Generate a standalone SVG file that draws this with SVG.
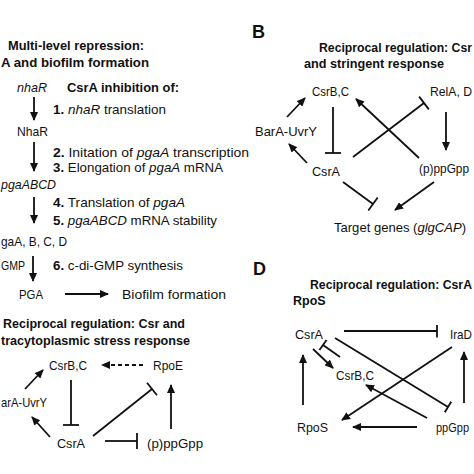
<svg xmlns="http://www.w3.org/2000/svg" width="474" height="474" viewBox="0 0 474 474">
<style>
text{font-family:"Liberation Sans",Arial,sans-serif;font-size:13px;fill:#111}
.b{font-weight:bold;font-size:12.5px}
.L{font-weight:bold;font-size:18px}
.i{font-style:italic}
.bb{font-weight:bold}
line,path.c{stroke:#111;stroke-width:1.8;fill:none}
.ar{marker-end:url(#ah)}
.te{marker-end:url(#tee)}
.ts{marker-end:url(#tees)}
.d{stroke-dasharray:4 3}
</style>
<defs>
<marker id="ah" viewBox="0 0 9 8" refX="8" refY="4" markerWidth="9" markerHeight="8" markerUnits="userSpaceOnUse" orient="auto"><path d="M0,0 L9,4 L0,8 z" fill="#111"/></marker>
<marker id="tee" viewBox="0 0 4 16" refX="2" refY="8" markerWidth="4" markerHeight="16" markerUnits="userSpaceOnUse" orient="auto"><path d="M2,0 V16" stroke="#111" stroke-width="1.8"/></marker>
<marker id="tees" viewBox="0 0 4 13" refX="2" refY="6.5" markerWidth="4" markerHeight="13" markerUnits="userSpaceOnUse" orient="auto"><path d="M2,0 V13" stroke="#111" stroke-width="1.8"/></marker>
</defs>
<rect width="474" height="474" fill="#fff"/>

<!-- Panel A -->
<g id="panelA">
<text class="b" x="8" y="50" textLength="136" lengthAdjust="spacingAndGlyphs">Multi-level repression:</text>
<text class="b" x="1" y="67" textLength="148" lengthAdjust="spacingAndGlyphs">A and biofilm formation</text>
<text class="b" x="67" y="92" textLength="112" lengthAdjust="spacingAndGlyphs">CsrA inhibition of:</text>
<g id="nhaR"><text class="i" x="17" y="92" textLength="30" lengthAdjust="spacingAndGlyphs">nhaR</text></g>
<text x="53" y="114" textLength="113" lengthAdjust="spacingAndGlyphs"><tspan class="bb">1.</tspan> <tspan class="i">nhaR</tspan> translation</text>
<g id="NhaR"><text x="17" y="136" textLength="31" lengthAdjust="spacingAndGlyphs">NhaR</text></g>
<text x="53" y="157" textLength="196" lengthAdjust="spacingAndGlyphs"><tspan class="bb">2.</tspan> Initation of <tspan class="i">pgaA</tspan> transcription</text>
<text x="53" y="172" textLength="170" lengthAdjust="spacingAndGlyphs"><tspan class="bb">3.</tspan> Elongation of <tspan class="i">pgaA</tspan> mRNA</text>
<g id="pgaABCD"><text class="i" x="1" y="189" textLength="55" lengthAdjust="spacingAndGlyphs">pgaABCD</text></g>
<text x="53" y="207" textLength="132" lengthAdjust="spacingAndGlyphs"><tspan class="bb">4.</tspan> Translation of <tspan class="i">pgaA</tspan></text>
<text x="53" y="225" textLength="164" lengthAdjust="spacingAndGlyphs"><tspan class="bb">5.</tspan> <tspan class="i">pgaABCD</tspan> mRNA stability</text>
<g id="PgaABCD"><text x="1" y="246" textLength="66" lengthAdjust="spacingAndGlyphs">gaA, B, C, D</text></g>
<g id="cdiGMP"><text x="1" y="270" textLength="24" lengthAdjust="spacingAndGlyphs">GMP</text></g>
<text x="53" y="270" textLength="130" lengthAdjust="spacingAndGlyphs"><tspan class="bb">6.</tspan> c-di-GMP synthesis</text>
<g id="PGA"><text x="19" y="299" textLength="24" lengthAdjust="spacingAndGlyphs">PGA</text></g>
<g id="Biofilm"><text x="122" y="299" textLength="104" lengthAdjust="spacingAndGlyphs">Biofilm formation</text></g>
</g>

<!-- Panel B -->
<g id="panelB">
<text class="L" x="252" y="38">B</text>
<text class="b" x="319" y="52" textLength="153" lengthAdjust="spacingAndGlyphs">Reciprocal regulation: Csr</text>
<text class="b" x="304" y="68" textLength="140" lengthAdjust="spacingAndGlyphs">and stringent response</text>
<g id="B_CsrBC"><text x="312" y="96" textLength="37" lengthAdjust="spacingAndGlyphs">CsrB,C</text></g>
<g id="B_RelA"><text x="430" y="96" textLength="42" lengthAdjust="spacingAndGlyphs">RelA, D</text></g>
<g id="B_BarA"><text x="255" y="136" textLength="62" lengthAdjust="spacingAndGlyphs">BarA-UvrY</text></g>
<g id="B_CsrA"><text x="312" y="176" textLength="28" lengthAdjust="spacingAndGlyphs">CsrA</text></g>
<g id="B_ppGpp"><text x="419" y="173" textLength="50" lengthAdjust="spacingAndGlyphs">(p)ppGpp</text></g>
<g id="B_Target"><text x="334" y="232" textLength="132" lengthAdjust="spacingAndGlyphs">Target genes (<tspan class="i">glgCAP</tspan>)</text></g>
</g>

<!-- Panel C -->
<g id="panelC">
<text class="b" x="3" y="328" textLength="182" lengthAdjust="spacingAndGlyphs">Reciprocal regulation: Csr and</text>
<text class="b" x="1" y="345" textLength="189" lengthAdjust="spacingAndGlyphs">tracytoplasmic stress response</text>
<g id="C_CsrBC"><text x="49" y="370" textLength="38" lengthAdjust="spacingAndGlyphs">CsrB,C</text></g>
<g id="C_RpoE"><text x="153" y="370" textLength="30" lengthAdjust="spacingAndGlyphs">RpoE</text></g>
<g id="C_BarA"><text x="1" y="407" textLength="46" lengthAdjust="spacingAndGlyphs">arA-UvrY</text></g>
<g id="C_CsrA"><text x="57" y="448" textLength="28" lengthAdjust="spacingAndGlyphs">CsrA</text></g>
<g id="C_ppGpp"><text x="147" y="448" textLength="56" lengthAdjust="spacingAndGlyphs">(p)ppGpp</text></g>
</g>

<!-- Panel D -->
<g id="panelD">
<text class="L" x="253" y="275">D</text>
<text class="b" x="310" y="289" textLength="162" lengthAdjust="spacingAndGlyphs">Reciprocal regulation: CsrA</text>
<text class="b" x="293" y="305">RpoS</text>
<g id="D_CsrA"><text x="295" y="339" textLength="28" lengthAdjust="spacingAndGlyphs">CsrA</text></g>
<g id="D_IraD"><text x="450" y="339" textLength="22" lengthAdjust="spacingAndGlyphs">IraD</text></g>
<g id="D_CsrBC"><text x="336" y="380" textLength="38" lengthAdjust="spacingAndGlyphs">CsrB,C</text></g>
<g id="D_RpoS"><text x="297" y="432" textLength="31" lengthAdjust="spacingAndGlyphs">RpoS</text></g>
<g id="D_ppGpp"><text x="436" y="432" textLength="33" lengthAdjust="spacingAndGlyphs">ppGpp</text></g>
</g>

<g id="connectors">
<!-- A -->
<line class="ar" x1="34" y1="97" x2="34" y2="120"/>
<line class="ar" x1="34" y1="142" x2="34" y2="171"/>
<line class="ar" x1="34" y1="197" x2="34" y2="223"/>
<line class="ar" x1="33" y1="256" x2="33" y2="281"/>
<line class="ar" x1="65" y1="294" x2="108" y2="294"/>
<!-- B -->
<line class="ar" x1="287" y1="117" x2="305" y2="98"/>
<line class="te" x1="333" y1="107" x2="333" y2="153"/>
<line class="ar" x1="307" y1="163" x2="289" y2="144"/>
<line class="te" x1="353" y1="157" x2="424" y2="103"/>
<line class="ar" x1="419" y1="158" x2="356" y2="99"/>
<line class="ar" x1="446" y1="112" x2="446" y2="150"/>
<line class="te" x1="343" y1="182" x2="373" y2="204"/>
<line class="ar" x1="434" y1="182" x2="395" y2="210"/>
<!-- C -->
<line class="ar d" x1="143" y1="365" x2="102" y2="365"/>
<line class="ar" x1="25" y1="389" x2="43" y2="370"/>
<line class="te" x1="71" y1="380" x2="71" y2="425"/>
<line class="ar" x1="50" y1="437" x2="32" y2="417"/>
<line class="te" x1="93" y1="436" x2="152" y2="389"/>
<line class="te" x1="105" y1="441" x2="137" y2="441"/>
<line class="ar" x1="171" y1="429" x2="171" y2="385"/>
<!-- D -->
<line class="ts" x1="344" y1="331" x2="437" y2="331"/>
<line class="ts" x1="340" y1="357" x2="323" y2="345"/>
<line class="ar" x1="313" y1="349" x2="333" y2="368"/>
<line class="ts" x1="335" y1="338" x2="448" y2="407"/>
<line class="ar" x1="452" y1="347" x2="342" y2="420"/>
<line class="ar" x1="427" y1="418" x2="366" y2="385"/>
<line class="ar" x1="464" y1="403" x2="464" y2="352"/>
<line class="ar" x1="303" y1="405" x2="303" y2="355"/>
<line class="ar" x1="417" y1="427" x2="353" y2="427"/>
</g>
</svg>
